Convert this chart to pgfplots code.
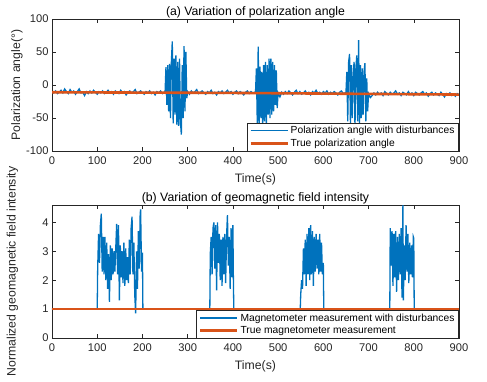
\documentclass[border=0pt]{standalone}
\usepackage{pgfplots}
\pgfplotsset{compat=1.18}
\usepackage{fontspec}
\setmainfont{Liberation Sans}
\definecolor{mblue}{RGB}{0,114,189}
\definecolor{morange}{RGB}{217,83,25}
\definecolor{axc}{RGB}{38,38,38}
\pgfplotsset{
  mstyle/.style={
    scale only axis,
    width=407bp,
    xmin=0, xmax=900,
    xtick={0,100,...,900},
    tick align=inside,
    major tick length=4bp,
    axis line style={axc, line width=0.5bp},
    every tick/.style={axc, line width=0.5bp},
    tick label style={font=\fontsize{11.2}{13}\selectfont, text=axc},
    xticklabel style={yshift=-2.5bp},
    /pgf/number format/assume math mode=true,
    label style={font=\fontsize{12.3}{14}\selectfont, text=axc},
    every axis title shift=0pt,
    title style={font=\fontsize{12.3}{14}\selectfont, text=black,
      at={(axis description cs:0.5,1)}, anchor=base, yshift=3.5bp},
    xlabel={Time(s)},
    xlabel style={at={(axis description cs:0.5,0)}, anchor=base, yshift=-31bp},
    legend cell align=left,
    legend style={at={(1,0)}, anchor=south east, draw=axc, line width=0.5bp,
      font=\fontsize{10.3}{12}\selectfont, inner xsep=2.5bp, inner ysep=1.2bp,
      nodes={inner sep=1.8bp}},
    legend image code/.code={\draw[#1] (0bp,0bp) -- (37bp,0bp);},
    scaled ticks=false,
  }
}
\begin{document}
\begin{tikzpicture}
\useasboundingbox (-52bp,-231bp) rectangle (435bp,151bp);
\begin{axis}[mstyle,
  at={(0,0)}, anchor=south west,
  height=132bp,
  ymin=-100, ymax=100, ytick={-100,-50,0,50,100},
  ylabel={Polarization angle(°)},
  ylabel style={at={(axis description cs:-0.086,0.5)}, anchor=center},
  title={(a) Variation of polarization angle},
]
\addplot[mblue, line width=1.3bp] coordinates {
(0,-10) (4,-12) (8,-9) (12,-13) (16,-11) (20,-8) (24,-12) (28,-6) (32,-10) (36,-13) (40,-7) (44,-11) (48,-9) (52,-14) (56,-10) (60,-6) (64,-12) (68,-11) (72,-16) (76,-10) (80,-13) (84,-9) (88,-12) (92,-8) (96,-11) (100,-14) (104,-10) (108,-12) (112,-9) (116,-13) (120,-11) (124,-8) (128,-12) (132,-10) (136,-14) (140,-9) (144,-11) (148,-13) (152,-8) (156,-12) (160,-10) (164,-15) (168,-11) (172,-9) (176,-12) (180,-10) (184,-7) (188,-13) (192,-11) (196,-9) (200,-12) (204,-14) (208,-10) (212,-12) (216,-9) (220,-13) (224,-11) (228,-15) (232,-10) (236,-12) (240,-9) (244,-13) (248,-11)
(250,-12) (252,27) (254,-30) (256,30) (258,-40) (260,32) (262,-50) (264,35) (266,66) (268,-58) (270,40) (272,-45) (274,45) (276,-60) (278,35) (280,-62) (282,40) (284,-55) (286,-75) (288,30) (290,-50) (292,59) (294,-40) (296,50) (298,-20) (300,-10)
(304,-14) (308,-9) (312,-12) (316,-10) (320,-7) (324,-13) (328,-11) (332,-9) (336,-12) (340,-14) (344,-10) (348,-12) (352,-8) (356,-13) (360,-11) (364,-15) (368,-10) (372,-12) (376,-9) (380,-13) (384,-11) (388,-8) (392,-12) (396,-10) (400,-14) (404,-11) (408,-9) (412,-13) (416,-10) (420,-12) (424,-15) (428,-11) (432,-9) (436,-13) (440,-10) (444,-12) (448,-11)
(450,-12) (452,25) (454,-60) (456,58) (458,-70) (460,28) (462,-50) (464,20) (466,-65) (468,30) (470,-55) (472,35) (474,-60) (476,30) (478,-45) (480,40) (482,-50) (484,40) (486,-45) (488,35) (490,-40) (492,30) (494,-30) (496,22) (498,-35) (500,-12)
(504,-18) (508,-11) (512,-14) (516,-10) (520,-13) (524,-9) (528,-12) (532,-15) (536,-11) (540,-8) (544,-13) (548,-10) (552,-14) (556,-12) (560,-9) (564,-13) (568,-11) (572,-15) (576,-10) (580,-12) (584,-8) (588,-13) (592,-11) (596,-14) (600,-10) (604,-12) (608,-9) (612,-14) (616,-11) (620,-13) (624,-10) (628,-12) (632,-15) (636,-11) (640,-9) (644,-13) (648,-12)
(650,-13) (652,20) (654,-55) (656,35) (658,47) (660,-60) (662,30) (664,-50) (666,15) (668,35) (670,-65) (672,25) (674,45) (676,-55) (678,68) (680,-60) (682,30) (684,-50) (686,25) (688,-45) (690,20) (692,33) (694,-55) (696,10) (698,-40) (700,-13)
(704,-19) (708,-16) (712,-12) (716,-15) (720,-11) (724,-14) (728,-12) (732,-16) (736,-10) (740,-13) (744,-15) (748,-11) (752,-14) (756,-12) (760,-9) (764,-14) (768,-12) (772,-16) (776,-11) (780,-13) (784,-15) (788,-10) (792,-14) (796,-12) (800,-16) (804,-11) (808,-13) (812,-15) (816,-12) (820,-10) (824,-14) (828,-12) (832,-17) (836,-13) (840,-11) (844,-15) (848,-12) (852,-14) (856,-16) (860,-11) (864,-14) (868,-18) (872,-13) (876,-15) (880,-12) (884,-16) (888,-14) (892,-17) (896,-13) (900,-15)
};
\addlegendentry{Polarization angle with disturbances}
\addplot[morange, line width=2.6bp] coordinates {
(0,-11) (200,-11.5) (400,-12) (600,-13) (800,-14) (900,-14.5)
};
\addlegendentry{True polarization angle}
\end{axis}
\begin{axis}[mstyle,
  at={(0,-187bp)}, anchor=south west,
  height=133bp,
  ymin=0, ymax=4.6, ytick={0,1,2,3,4},
  ylabel={Normalized geomagnetic field intensity},
  ylabel style={at={(axis description cs:-0.097,0.5)}, anchor=center},
  title={(b) Variation of geomagnetic field intensity},
]
\addplot[mblue, line width=1.3bp] coordinates {
(0,1) (100,1)
(101,2.4) (103,3.6) (105,2.6) (107,3.9) (109,4.3) (111,2.3) (113,3.5) (115,2.2) (117,3.5) (119,2.0) (121,3.3) (123,1.7) (125,2.9) (127,1.25) (129,3.2) (131,2.0) (133,3.1) (135,2.2) (137,3.0) (139,2.3) (141,3.1) (143,3.95) (145,2.2) (147,3.9) (149,1.3) (151,3.2) (153,2.1) (155,3.0) (157,1.9) (159,3.3) (161,1.8) (163,3.1) (165,2.0) (167,2.8) (169,1.9) (171,3.4) (173,2.2) (175,3.8) (177,4.2) (179,2.2) (181,3.3) (183,1.5) (185,0.85) (187,3.0) (189,1.7) (191,3.7) (193,2.4) (195,4.3) (196,4.45) (198,2.3) (200,2.95) (201,1)
(349,1) (350,2.9) (352,3.5) (354,2.2) (356,3.8) (358,4.0) (360,2.4) (362,3.9) (364,1.65) (366,4.0) (368,2.6) (370,3.6) (372,2.0) (374,3.4) (376,1.8) (378,3.5) (380,2.2) (382,3.6) (384,1.9) (386,3.5) (388,4.25) (390,2.5) (392,3.5) (394,1.7) (396,3.8) (398,2.1) (400,3.9) (401,2.2) (402,1)
(549,1) (550,1.5) (552,2.0) (554,1.7) (556,3.1) (558,2.2) (560,3.4) (562,1.8) (564,3.6) (566,2.2) (568,3.8) (570,2.0) (572,3.9) (574,2.2) (576,3.7) (578,1.8) (580,3.5) (582,2.3) (584,3.6) (586,2.4) (588,3.4) (590,2.2) (592,3.6) (594,2.3) (596,3.3) (598,2.2) (600,2.6) (601,1)
(747,1) (748,3.8) (750,2.5) (752,3.7) (754,1.8) (756,3.6) (758,2.1) (760,3.7) (762,1.6) (764,3.5) (766,2.0) (768,3.6) (770,2.2) (772,3.8) (774,1.4) (776,4.6) (777,1.3) (779,3.2) (781,2.0) (783,3.9) (785,2.3) (787,3.6) (789,1.9) (791,3.3) (793,2.2) (795,3.2) (797,2.1) (799,3.5) (800,3.45) (801,1)
(900,1)
};
\addlegendentry{Magnetometer measurement with disturbances}
\addplot[morange, line width=2.6bp] coordinates {(0,1) (900,1)};
\addlegendentry{True magnetometer measurement}
\end{axis}
\end{tikzpicture}
\end{document}
